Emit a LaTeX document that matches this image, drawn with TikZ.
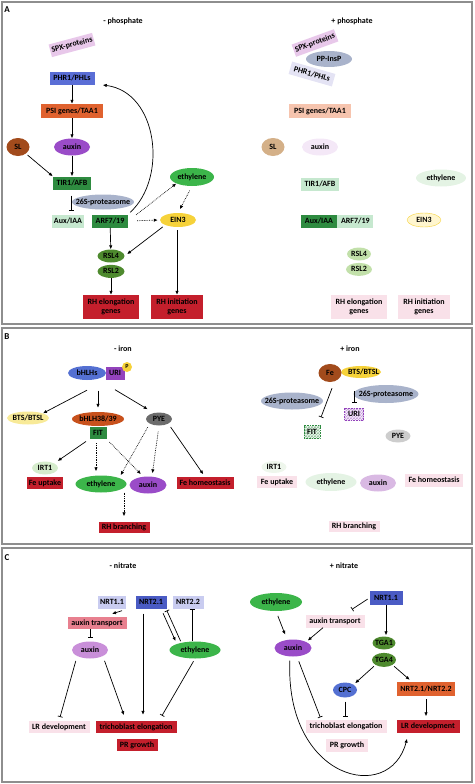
\documentclass[tikz,border=0pt]{standalone}
\usepackage{fontspec}
\setmainfont{Carlito}
\usetikzlibrary{arrows.meta,positioning,shapes.geometric,patterns}
\definecolor{RedBox}{HTML}{C41F2C}
\definecolor{PinkBox}{HTML}{F9E1E9}
\definecolor{DarkGreen}{HTML}{2E8B40}
\definecolor{LightGreen}{HTML}{C6E8CF}
\definecolor{EthGreen}{HTML}{3CB54A}
\definecolor{PaleEth}{HTML}{E4F3E4}
\definecolor{OliveGreen}{HTML}{4E8A2E}
\definecolor{PaleOlive}{HTML}{C2E0AA}
\definecolor{PaleIrt}{HTML}{D5ECCC}
\definecolor{FaintIrt}{HTML}{EEF6EC}
\definecolor{AuxPurple}{HTML}{9A4CC8}
\definecolor{PaleAux}{HTML}{F4E8F7}
\definecolor{LightAux}{HTML}{D9B9E3}
\definecolor{MidAux}{HTML}{C98FD9}
\definecolor{PhrBlue}{HTML}{5A6ED6}
\definecolor{NrtBlue}{HTML}{4A5BC4}
\definecolor{PaleBlue}{HTML}{C9CCF0}
\definecolor{PaleLav}{HTML}{E4E3F4}
\definecolor{PsiOrange}{HTML}{E0622F}
\definecolor{PaleOrange}{HTML}{F6C4AE}
\definecolor{SlBrown}{HTML}{A24B1C}
\definecolor{SlTan}{HTML}{D4B088}
\definecolor{EinYellow}{HTML}{F6D23A}
\definecolor{PaleYellow}{HTML}{FFF6CF}
\definecolor{BtsPale}{HTML}{F8EA98}
\definecolor{ProtGray}{HTML}{A9B3CB}
\definecolor{SpxPink}{HTML}{E8C8EA}
\definecolor{UriPurple}{HTML}{9343BC}
\definecolor{BhlhBlue}{HTML}{5470D2}
\definecolor{BhlhOrange}{HTML}{C8511C}
\definecolor{PyeGray}{HTML}{6C6C6C}
\definecolor{PyeLight}{HTML}{CDCDCD}
\definecolor{PinkTransp}{HTML}{E8808F}
\definecolor{PanelLine}{HTML}{8E8E8E}
\newcommand{\otx}[1]{\makebox[0pt]{#1}}

\begin{document}
\begin{tikzpicture}[x=1pt,y=-1pt,node distance=2pt]
    \tikzset{lbl/.style={font=\fontsize{8}{9.5}\selectfont\bfseries,text=black,inner sep=1pt,align=center},
      box/.style={lbl,rectangle,minimum height=13pt},
      oval/.style={lbl,ellipse,inner sep=0pt,minimum height=14pt},
      ttl/.style={font=\fontsize{8}{9}\selectfont\bfseries},
      tag/.style={font=\fontsize{9}{10}\selectfont\bfseries},
      arr/.style={-{Latex[length=4pt,width=3.4pt]},line width=0.7pt},
      dotarr/.style={arr,densely dotted},
      inh/.style={-{Bar[width=5pt]},line width=0.7pt},
      hatch/.style={box,densely dotted,line width=0.6pt,preaction={fill=#1!12},pattern=crosshatch,pattern color=#1!70,draw=#1},
      panel/.style={draw=PanelLine,line width=1.6pt}}
    \useasboundingbox (0,0) rectangle (474,784);
    \draw[panel] (2,2) rectangle (472,324);
    \draw[panel] (2,328) rectangle (472,544);
    \draw[panel] (2,548) rectangle (472,782);

    % A: - phosphate
    \node[tag] (pa) at (7,10) {A};
    \node[ttl] (tA1) at (123,21) {- phosphate};
    \node[box,fill=SpxPink,minimum width=45pt,rotate=15] (spxA) at (72,45) {SPX-proteins};
    \node[box,fill=PhrBlue,minimum width=45pt] (phrA) at (72,78) {PHR1/PHLs};
    \node[box,fill=PsiOrange,minimum width=62pt,minimum height=14pt] (psiA) at (72,111) {PSI genes/TAA1};
    \node[oval,fill=AuxPurple,minimum width=36pt,minimum height=17pt] (auxA) at (72,147) {\otx{auxin}};
    \node[oval,fill=SlBrown,minimum width=23pt,minimum height=18pt] (slA) at (18,147) {\otx{SL}};
    \node[box,fill=DarkGreen,minimum width=38pt] (tirA) at (72,183) {TIR1/AFB};
    \node[oval,fill=ProtGray,minimum width=62pt,minimum height=15pt] (protA) at (103,202) {\otx{26S-proteasome}};
    \node[box,fill=LightGreen,minimum width=32pt] (aiaA) at (68,221) {Aux/IAA};
    \node[box,fill=DarkGreen,minimum width=36pt] (arfA) at (110,221) {ARF7/19};
    \node[oval,fill=EthGreen,minimum width=44pt,minimum height=18pt] (ethA) at (192,177) {\otx{ethylene}};
    \node[oval,fill=EinYellow,minimum width=36pt] (einA) at (178,220) {\otx{EIN3}};
    \node[oval,fill=OliveGreen,minimum width=27pt,minimum height=13pt] (rsl4A) at (111,256) {\otx{RSL4}};
    \node[oval,fill=OliveGreen,minimum width=27pt,minimum height=13pt,below=of rsl4A] (rsl2A) {\otx{RSL2}};
    \node[box,fill=RedBox,minimum width=56pt,minimum height=24pt] (rheA) at (111,307) {RH elongation\\genes};
    \node[box,fill=RedBox,minimum width=52pt,minimum height=24pt] (rhiA) at (177,307) {RH initiation\\genes};

    \draw[arr] (phrA) -- (psiA);
    \draw[arr] (psiA) -- (auxA);
    \draw[arr,shorten <=2pt] (slA) -- (tirA.north west);
    \draw[arr] (auxA) -- (tirA);
    \draw[inh,shorten <=6pt,shorten >=4pt] ([xshift=3pt]aiaA.north |- tirA.south) -- ([xshift=3pt]aiaA.north);
    \draw[arr] (arfA) -- (rsl4A);
    \draw[arr] (rsl2A) -- (rheA);
    \draw[dotarr,shorten <=10pt] (arfA.east) -- (ethA.south west);
    \draw[dotarr,shorten <=9pt,shorten >=2pt] (arfA.east) -- (einA.west);
    \draw[dotarr,shorten <=5pt,shorten >=4pt] (ethA.south) -- (einA.north);
    \draw[arr,shorten <=3pt,shorten >=3pt] (einA.south west) -- (rsl4A.east);
    \draw[arr,shorten <=3pt] (einA.south -| rhiA.north) -- (rhiA.north);
    \draw[arr] ([shift={(2,-2)}]arfA.north east) .. controls (168,178) and (158,92) .. ([shift={(8,7)}]phrA.east);

    % A: + phosphate
    \node[ttl] (tA2) at (352,21) {+ phosphate};
    \node[box,fill=SpxPink,minimum width=45pt,rotate=20] (spxR) at (315,43) {SPX-proteins};
    \node[box,fill=PaleLav,minimum width=45pt,rotate=-16] (phrR) at (312,74) {PHR1/PHLs};
    \node[oval,fill=ProtGray,minimum width=46pt,minimum height=16pt] (ppR) at (329,59) {\otx{PP-InsP}};
    \node[box,fill=PaleOrange,minimum width=62pt,minimum height=14pt] (psiR) at (320,111) {PSI genes/TAA1};
    \node[oval,fill=SlTan,minimum width=23pt,minimum height=18pt] (slR) at (273,147) {\otx{SL}};
    \node[oval,fill=PaleAux,minimum width=36pt,minimum height=17pt] (auxR) at (320,147) {\otx{auxin}};
    \node[box,fill=LightGreen,minimum width=38pt] (tirR) at (320,184) {TIR1/AFB};
    \node[oval,fill=PaleEth,minimum width=50pt,minimum height=17pt] (ethR) at (441,178) {\otx{ethylene}};
    \node[box,fill=DarkGreen,minimum width=36pt] (aiaR) at (319,221) {Aux/IAA};
    \node[box,fill=LightGreen,minimum width=36pt,right=0pt of aiaR] (arfR) {ARF7/19};
    \node[oval,fill=PaleYellow,draw=EinYellow,minimum width=34pt] (einR) at (424,220) {\otx{EIN3}};
    \node[oval,fill=PaleOlive,minimum width=24pt,minimum height=13pt] (rsl4R) at (359,254) {\otx{RSL4}};
    \node[oval,fill=PaleOlive,minimum width=26pt,minimum height=13pt,below=of rsl4R] (rsl2R) {\otx{RSL2}};
    \node[box,fill=PinkBox,minimum width=56pt,minimum height=24pt] (rheR) at (359,307) {RH elongation\\genes};
    \node[box,fill=PinkBox,minimum width=52pt,minimum height=24pt] (rhiR) at (424,307) {RH initiation\\genes};

    % B: - iron
    \node[tag] (pb) at (7,337) {B};
    \node[ttl] (tB1) at (123,349) {- iron};
    \node[oval,fill=BhlhBlue,minimum width=38pt,minimum height=14pt] (bhlB) at (87,373) {\otx{bHLHs}};
    \node[box,fill=UriPurple,minimum width=19pt] (uriB) at (115,373) {URI};
    \node[oval,fill=EinYellow,minimum width=10pt,minimum height=10pt,font=\fontsize{6}{6}\selectfont\bfseries] (pB) at (127,367) {\otx{P}};
    \node[oval,fill=BtsPale,minimum width=42pt,minimum height=13pt] (btsB) at (28,418) {\otx{BTS/BTSL}};
    \node[oval,fill=BhlhOrange,minimum width=52pt,minimum height=14pt] (b38B) at (98,419) {\otx{bHLH38/39}};
    \node[box,fill=DarkGreen,minimum width=17pt,minimum height=12pt] (fitB) at (98,433) {FIT};
    \node[oval,fill=PyeGray,minimum width=26pt,minimum height=13pt] (pyeB) at (159,419) {\otx{PYE}};
    \node[oval,fill=PaleIrt,minimum width=26pt,minimum height=13pt] (irtB) at (45,468) {\otx{IRT1}};
    \node[box,fill=RedBox,minimum width=36pt,minimum height=12pt] (feuB) at (45,483) {Fe uptake};
    \node[oval,fill=EthGreen,minimum width=51pt,minimum height=17pt] (ethB) at (101,484) {\otx{ethylene}};
    \node[oval,fill=AuxPurple,minimum width=37pt,minimum height=17pt] (auxB) at (148,485) {\otx{auxin}};
    \node[box,fill=RedBox,minimum width=57pt,minimum height=12pt] (fehB) at (205,483) {Fe homeostasis};
    \node[box,fill=RedBox,minimum width=51pt,minimum height=11pt] (rhbB) at (124,527) {RH branching};

    \draw[arr] ([yshift=-10pt]bhlB.south) -- (btsB.north east);
    \draw[arr,shorten >=4pt] ([yshift=-11pt]uriB.south -| b38B.north) -- (b38B.north);
    \draw[arr] ([yshift=-10pt]uriB.south) -- ([shift={(-2,-5)}]pyeB.north west);
    \draw[arr,shorten <=4pt,shorten >=4pt] (fitB.south west) -- (irtB.north east);
    \draw[dotarr,shorten <=4pt,shorten >=4pt] ([xshift=-2pt]fitB.south) -- ([xshift=-2pt]fitB.south |- ethB.north);
    \draw[dotarr,shorten <=4pt,shorten >=3pt] (fitB.south east) -- ([xshift=-5pt]auxB.north);
    \draw[dotarr,shorten <=4pt,shorten >=3pt] (pyeB.south west) -- (ethB.north east);
    \draw[dotarr,shorten <=6pt,shorten >=3pt] (pyeB.south) -- ([xshift=4pt]auxB.north);
    \draw[arr,shorten <=4pt,shorten >=3pt] (pyeB.south east) -- (fehB.north);
    \draw[dotarr,shorten >=5pt] (rhbB.north |- ethB.south) -- (rhbB.north);

    % B: + iron
    \node[ttl] (tB2) at (350,349) {+ iron};
    \node[oval,fill=EinYellow,minimum width=40pt,minimum height=12pt] (btsR) at (361,372) {\otx{\hspace{5pt}BTS/BTSL}};
    \node[oval,fill=SlBrown,minimum width=23pt,minimum height=18pt] (feR) at (330,373) {\otx{Fe}};
    \node[oval,fill=ProtGray,minimum width=62pt,minimum height=17pt] (protR1) at (292,401) {\otx{26S-proteasome}};
    \node[oval,fill=ProtGray,minimum width=65pt,minimum height=18pt] (protR2) at (386,394) {\otx{26S-proteasome}};
    \node[hatch=UriPurple,minimum width=19pt,minimum height=12pt] (uriR) at (354,414) {URI};
    \node[hatch=DarkGreen,minimum width=16pt,minimum height=13pt] (fitR) at (312,432) {FIT};
    \node[oval,fill=PyeLight,minimum width=25pt,minimum height=13pt] (pyeR) at (398,436) {\otx{PYE}};
    \node[oval,fill=FaintIrt,minimum width=25pt,minimum height=12pt] (irtR) at (274,467) {\otx{IRT1}};
    \node[box,fill=PinkBox,minimum width=40pt,minimum height=12pt] (feuR) at (277,482) {Fe uptake};
    \node[oval,fill=PaleEth,minimum width=51pt,minimum height=18pt] (ethR2) at (331,482) {\otx{ethylene}};
    \node[oval,fill=LightAux,minimum width=36pt,minimum height=17pt] (auxR2) at (378,483) {\otx{auxin}};
    \node[box,fill=PinkBox,minimum width=58pt,minimum height=13pt] (fehR) at (434,480) {Fe homeostasis};
    \node[box,fill=PinkBox,minimum width=51pt,minimum height=11pt] (rhbR) at (354,526) {RH branching};

    \draw[inh] ([shift={(2,6)}]feR.south) -- ([shift={(9,-8)}]fitR.north);
    \draw[inh,shorten >=5pt] ([yshift=3pt]uriR.north |- protR2.west) -- (uriR.north);

    % C: - nitrate
    \node[tag] (pc) at (7,558) {C};
    \node[ttl] (tC1) at (123,566) {- nitrate};
    \node[box,fill=PaleBlue,minimum width=28pt] (n11C) at (112,602) {NRT1.1};
    \node[box,fill=NrtBlue,minimum width=31pt] (n21C) at (151,602) {NRT2.1};
    \node[box,fill=PaleBlue,minimum width=31pt] (n22C) at (188,602) {NRT2.2};
    \node[box,fill=PinkTransp,minimum width=59pt,minimum height=12pt] (atC) at (97,623) {auxin transport};
    \node[oval,fill=MidAux,minimum width=36pt,minimum height=17pt] (auxC) at (90,650) {\otx{auxin}};
    \node[oval,fill=EthGreen,minimum width=51pt,minimum height=17pt] (ethC) at (195,650) {\otx{ethylene}};
    \node[box,fill=PinkBox,minimum width=61pt,minimum height=12pt] (lrC) at (59,727) {LR development};
    \node[box,fill=RedBox,minimum width=81pt,minimum height=12pt] (trC) at (136,727) {trichoblast elongation};
    \node[box,fill=RedBox,minimum width=41pt,minimum height=12pt] (prC) at (137,745) {PR growth};

    \draw[arr] ([xshift=10pt,yshift=-2pt]n11C.south) -- ([xshift=15pt,yshift=3pt]atC.north);
    \draw[inh,shorten >=4pt] (atC.south -| auxC.north) -- (auxC.north);
    \draw[arr,shorten <=5pt,shorten >=3pt] ([xshift=10pt]n21C.south) -- (ethC.north west);
    \draw[inh,shorten <=3pt,shorten >=2pt] ([xshift=5pt]ethC.north west) -- ([xshift=15pt]n21C.south);
    \draw[inh] ([xshift=4pt]n22C.south |- ethC.north) -- ([xshift=4pt]n22C.south);
    \draw[arr,shorten <=5pt,shorten >=6pt] ([xshift=-8pt]n21C.south) -- ([xshift=-8pt]n21C.south |- trC.north);
    \draw[inh,shorten <=5pt,shorten >=4pt] (auxC.south west) -- (lrC.north);
    \draw[arr,shorten <=5pt,shorten >=6pt] (auxC.south east) -- ([xshift=-10pt]trC.north);
    \draw[inh,shorten <=3pt,shorten >=6pt] (ethC.south) -- ([xshift=23pt]trC.north);

    % C: + nitrate
    \node[ttl] (tC2) at (344,566) {+ nitrate};
    \node[oval,fill=EthGreen,minimum width=52pt,minimum height=18pt] (ethCR) at (276,602) {\otx{ethylene}};
    \node[box,fill=NrtBlue,minimum width=33pt,minimum height=14pt] (n11R) at (386,598) {NRT1.1};
    \node[box,fill=PinkBox,minimum width=59pt,minimum height=13pt] (atR) at (335,621) {auxin transport};
    \node[oval,fill=AuxPurple,minimum width=37pt,minimum height=17pt] (auxCR) at (293,648) {\otx{auxin}};
    \node[oval,fill=OliveGreen,minimum width=23pt,minimum height=13pt] (tga1) at (384,643) {\otx{TGA1}};
    \node[oval,fill=OliveGreen,minimum width=24pt,minimum height=14pt,below=3pt of tga1] (tga4) {\otx{TGA4}};
    \node[oval,fill=BhlhBlue,minimum width=24pt,minimum height=15pt] (cpcR) at (345,690) {\otx{CPC}};
    \node[box,fill=PsiOrange,minimum width=58pt,minimum height=14pt] (nr22R) at (426,689) {NRT2.1/NRT2.2};
    \node[box,fill=RedBox,minimum width=63pt,minimum height=13pt] (lrR) at (428,726) {LR development};
    \node[box,fill=PinkBox,minimum width=81pt,minimum height=13pt] (trR) at (346,726) {trichoblast elongation};
    \node[box,fill=PinkBox,minimum width=42pt,minimum height=13pt] (prR) at (347,745) {PR growth};

    \draw[inh,shorten <=2pt] (n11R.west) -- ([shift={(17,-5)}]atR.north);
    \draw[arr,shorten <=5pt,shorten >=5pt] (ethCR.south) -- ([xshift=-6pt]auxCR.north);
    \draw[arr,shorten >=2pt] ([xshift=-12pt]atR.south) -- (auxCR.north east);
    \draw[arr,shorten >=1pt] (n11R.south) -- (n11R.south |- tga1.north);
    \draw[arr,shorten <=2pt,shorten >=2pt] (tga4.south west) -- (cpcR.north east);
    \draw[arr,shorten <=2pt,shorten >=3pt] (tga4.south east) -- ([xshift=-14pt]nr22R.north);
    \draw[inh,shorten <=4pt,shorten >=3pt] (cpcR.south) -- (cpcR.south |- trR.north);
    \draw[arr,shorten <=3pt,shorten >=3pt] (nr22R.south) -- (nr22R.south |- lrR.north);
    \draw[inh,shorten <=5pt] ([xshift=4pt]auxCR.south) -- ([shift={(15,-2)}]trR.north west);
    \draw[arr,shorten <=4pt] ([xshift=-3pt]auxCR.south) .. controls (285,780) and (390,805) .. ([shift={(-21,6)}]lrR.south);
  \end{tikzpicture}
\end{document}
